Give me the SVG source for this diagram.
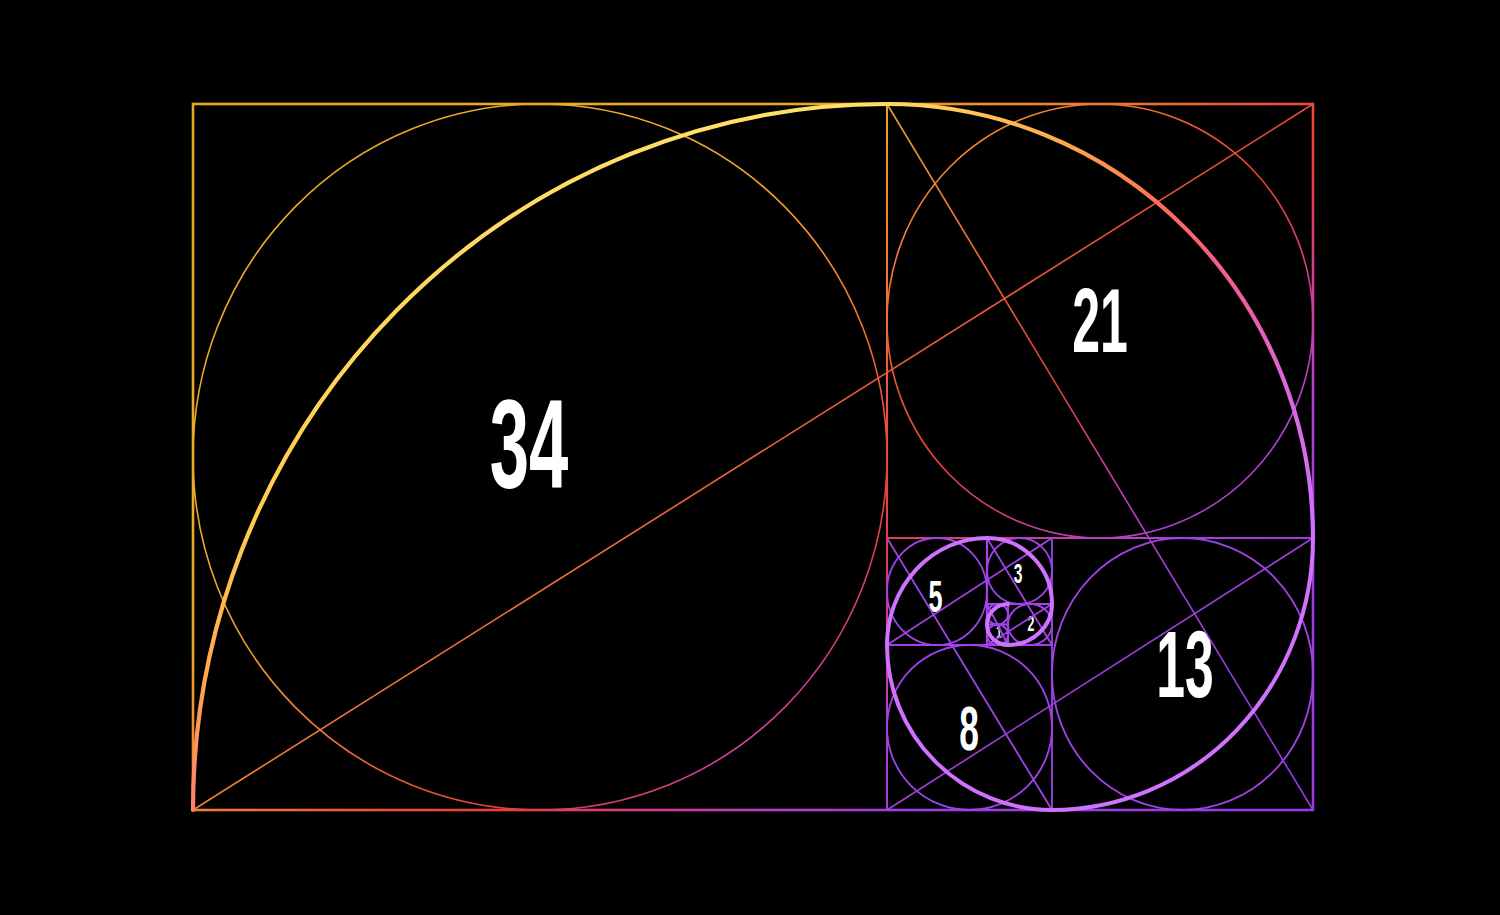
<svg xmlns="http://www.w3.org/2000/svg" width="1500" height="915" viewBox="0 0 1500 915">
  <defs>
    <linearGradient id="gl" gradientUnits="userSpaceOnUse" x1="193" y1="104" x2="1169" y2="1324">
      <stop offset="0" stop-color="#e6a620"/>
      <stop offset="0.2" stop-color="#eeaa28"/>
      <stop offset="0.28" stop-color="#f0a02a"/>
      <stop offset="0.36" stop-color="#f07a34"/>
      <stop offset="0.43" stop-color="#ec5236"/>
      <stop offset="0.48" stop-color="#e4403e"/>
      <stop offset="0.53" stop-color="#d43c88"/>
      <stop offset="0.59" stop-color="#b440cc"/>
      <stop offset="0.65" stop-color="#9c3ee0"/>
      <stop offset="1" stop-color="#8c34e8"/>
    </linearGradient>
    <linearGradient id="g34" gradientUnits="userSpaceOnUse" x1="0" y1="104" x2="0" y2="810">
      <stop offset="0" stop-color="#ffe066"/>
      <stop offset="0.6" stop-color="#ffcc50"/>
      <stop offset="0.85" stop-color="#ffa050"/>
      <stop offset="1" stop-color="#ff8070"/>
    </linearGradient>
    <linearGradient id="g21" gradientUnits="userSpaceOnUse" x1="887" y1="104" x2="1313" y2="538">
      <stop offset="0" stop-color="#ffd860"/>
      <stop offset="0.25" stop-color="#ffa848"/>
      <stop offset="0.45" stop-color="#ff6a58"/>
      <stop offset="0.62" stop-color="#f05c98"/>
      <stop offset="0.8" stop-color="#dc66e0"/>
      <stop offset="1" stop-color="#d070ff"/>
    </linearGradient>
    <style>
      .frame { fill: none; stroke: url(#gl); stroke-width: 2.6; }
      .div { fill: none; stroke: url(#gl); stroke-width: 2; }
      .thin { fill: none; stroke: url(#gl); stroke-width: 1.6; }
      .vio { fill: none; stroke: #a042ea; stroke-width: 1.8; }
      .viob { fill: none; stroke: #a644f0; stroke-width: 2.2; }
      .sp { fill: none; stroke-width: 4.2; stroke-linecap: round; }
      .spv { fill: none; stroke: #d072ff; stroke-width: 4; stroke-linecap: round; }
      .lbl { fill: #ffffff; font-family: "Liberation Sans", Arial, sans-serif; font-weight: bold; text-anchor: middle; }
    </style>
  </defs>

  <rect x="0" y="0" width="1500" height="915" fill="#000000"/>

  <g id="frame">
    <rect class="frame" x="193" y="104" width="1120" height="706"/>
  </g>

  <g id="sq34">
    <ellipse class="thin" cx="540" cy="457" rx="347" ry="353"/>
    <text class="lbl" font-size="126" transform="translate(529,488) scale(0.56,1)">34</text>
  </g>

  <g id="sq21">
    <line class="div" x1="887" y1="104" x2="887" y2="810"/>
    <ellipse class="thin" cx="1100" cy="321" rx="213" ry="217"/>
    <text class="lbl" font-size="91" transform="translate(1100,352) scale(0.55,1)">21</text>
  </g>

  <g id="sq13">
    <line class="div" x1="887" y1="538" x2="1313" y2="538"/>
    <line class="vio" x1="1052" y1="538" x2="1052" y2="810"/>
    <ellipse class="vio" cx="1182.5" cy="674" rx="130.5" ry="136"/>
    <text class="lbl" font-size="94" transform="translate(1185,697) scale(0.55,1)">13</text>
  </g>

  <g id="sq8">
    <line class="vio" x1="887" y1="645" x2="1052" y2="645"/>
    <ellipse class="vio" cx="969.5" cy="727.5" rx="82.5" ry="82.5"/>
    <text class="lbl" font-size="63" transform="translate(969,750) scale(0.56,1)">8</text>
  </g>

  <g id="sq5">
    <line class="viob" x1="987" y1="538" x2="987" y2="645"/>
    <ellipse class="vio" cx="937" cy="591.5" rx="50" ry="53.5"/>
    <text class="lbl" font-size="45" transform="translate(935.5,612) scale(0.56,1)">5</text>
  </g>

  <g id="sq3">
    <line class="viob" x1="987" y1="604" x2="1052" y2="604"/>
    <ellipse class="vio" cx="1019.5" cy="571" rx="32.5" ry="33"/>
    <text class="lbl" font-size="28" transform="translate(1018,583) scale(0.56,1)">3</text>
  </g>

  <g id="sq2">
    <line class="viob" x1="1008" y1="604" x2="1008" y2="645"/>
    <ellipse class="vio" cx="1030" cy="624.5" rx="22" ry="20.5"/>
    <text class="lbl" font-size="22" transform="translate(1031,631) scale(0.56,1)">2</text>
  </g>

  <g id="sq1a">
    <line class="viob" x1="987" y1="624.5" x2="1008" y2="624.5"/>
    <ellipse class="vio" cx="997.5" cy="634.75" rx="10.5" ry="10.25"/>
    <text class="lbl" font-size="17" transform="translate(999,638) scale(0.56,1)">1</text>
  </g>

  <g id="sq1b">
    <ellipse class="vio" cx="997.5" cy="614.25" rx="10.5" ry="10.25"/>
  </g>

  <g id="connectors">
    <line class="thin" x1="193" y1="810" x2="1313" y2="104"/>
    <line class="thin" x1="887" y1="104" x2="1313" y2="810"/>
    <line class="thin" x1="887" y1="810" x2="1313" y2="538"/>
    <line class="vio" x1="887" y1="538" x2="1052" y2="810"/>
    <line class="vio" x1="887" y1="645" x2="1052" y2="538"/>
    <line class="vio" x1="987" y1="538" x2="1052" y2="645"/>
    <line class="vio" x1="987" y1="645" x2="1052" y2="604"/>
    <line class="vio" x1="987" y1="604" x2="1008" y2="645"/>
  </g>

  <g id="spiral">
    <path class="sp" stroke="url(#g34)" d="M193,810 A694,706 0 0 1 887,104"/>
    <path class="sp" stroke="url(#g21)" d="M887,104 A426,434 0 0 1 1313,538"/>
    <path class="spv" d="M1313,538 A261,272 0 0 1 1052,810 A165,165 0 0 1 887,645 A100,107 0 0 1 987,538 A65,66 0 0 1 1052,604 A44,41 0 0 1 1008,645 A21,20.5 0 0 1 987,624.5 A21,20.5 0 0 1 1008,604"/>
  </g>
</svg>
